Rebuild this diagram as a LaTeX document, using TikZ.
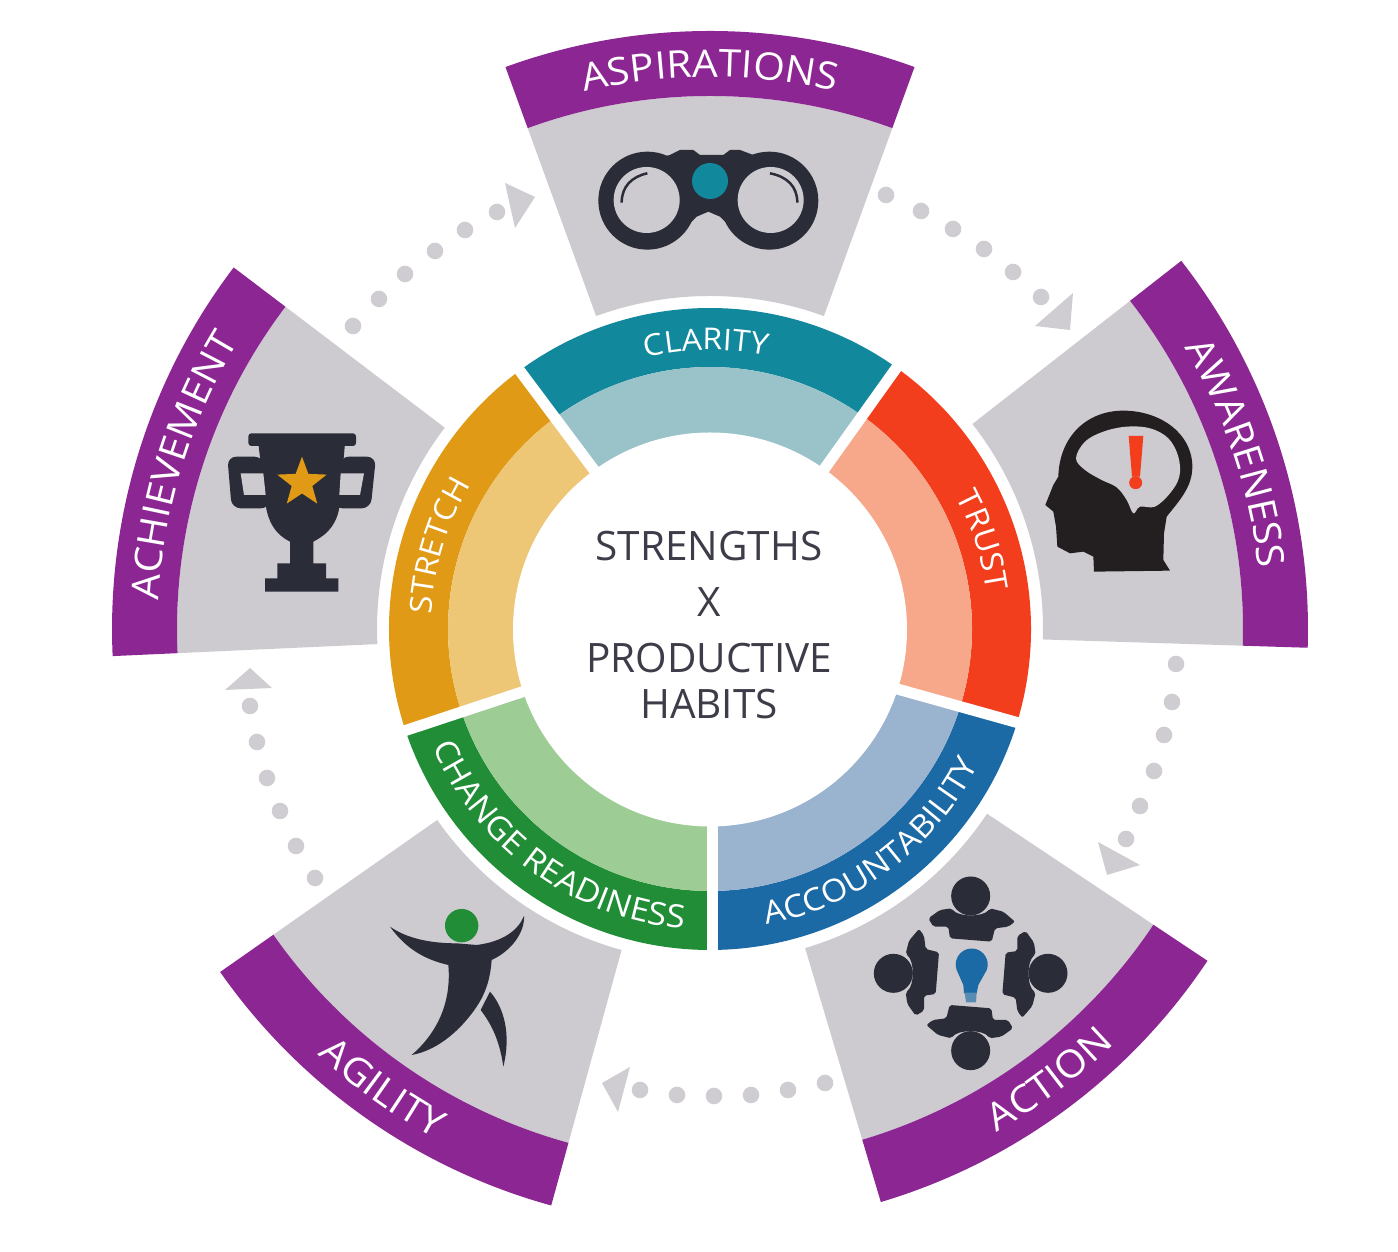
\documentclass[tikz,border=0pt]{standalone}
\usepackage{fontspec}
\setmainfont{Open Sans}
\newfontfamily\lblfont[FakeStretch=1.07]{Open Sans}
\usetikzlibrary{decorations.text,shapes.geometric}
\definecolor{purp}{HTML}{8C2693}
\definecolor{sectgrey}{HTML}{CDCBCF}
\definecolor{dotgrey}{HTML}{CFCDD1}
\definecolor{icondark}{HTML}{2A2C38}
\definecolor{headblack}{HTML}{231F20}
\definecolor{centertext}{HTML}{3C3D48}
\definecolor{tealD}{HTML}{11889C}\definecolor{tealL}{HTML}{9AC3C9}
\definecolor{redD}{HTML}{F23E1C}\definecolor{redL}{HTML}{F7A88A}
\definecolor{blueD}{HTML}{1B6AA5}\definecolor{blueL}{HTML}{9AB3CF}
\definecolor{greenD}{HTML}{218E37}\definecolor{greenL}{HTML}{9DCC94}
\definecolor{orangeD}{HTML}{E09A16}\definecolor{orangeL}{HTML}{EDC676}
\tikzset{
  pixel/.style={x=1pt,y=-1pt,yshift=1252pt},
  zoomed/.style={x=.33333pt,y=-.33333pt},
  dotfill/.style={fill=dotgrey},
  gapline/.style={draw=white,line width=11pt},
  centerlabel/.style={text=centertext,font=\fontsize{40.5}{40.5}\selectfont,inner sep=0pt,anchor=center}
}
% sector between angles #1,#2, radii #3,#4 (pt), colour #5
\newcommand\annsec[5]{\fill[#5] (#1:#3pt) arc[start angle=#1,end angle=#2,radius=#3pt] -- (#2:#4pt) arc[start angle=#2,end angle=#1,radius=#4pt] -- cycle;}
% curved text: start angle, end angle, radius, size, text
\newcommand\arclabel[5]{\path[decorate,decoration={text along path,text align=center,text={|\color{white}\lblfont\fontsize{#4}{#4}\selectfont|#5}}] (#1:#3pt) arc[start angle=#1,end angle=#2,radius=#3pt];}
\begin{document}
\begin{tikzpicture}
\useasboundingbox (0,0) rectangle (1398pt,1252pt);
% ---------- polar part
\begin{scope}[shift={(710pt,623pt)}]
  \annsec{70}{110}{333}{533}{sectgrey}\annsec{70}{110}{533}{598}{purp}
  \annsec{-1.8}{38}{333}{533}{sectgrey}\annsec{-1.8}{38}{533}{598}{purp}
  \annsec{-73.4}{-33.7}{333}{533}{sectgrey}\annsec{-73.4}{-33.7}{533}{598}{purp}
  \annsec{-145}{-105.4}{333}{533}{sectgrey}\annsec{-145}{-105.4}{533}{598}{purp}
  \annsec{142.8}{182.6}{333}{533}{sectgrey}\annsec{142.8}{182.6}{533}{598}{purp}
  % ring
  \annsec{54.5}{126.2}{262}{321}{tealD}\annsec{54.5}{126.2}{190}{262}{tealL}
  \annsec{-17}{54.5}{262}{321}{redD}\annsec{-17}{54.5}{190}{262}{redL}
  \annsec{-89.6}{-17}{262}{321}{blueD}\annsec{-89.6}{-17}{190}{262}{blueL}
  \annsec{198.3}{270.4}{262}{321}{greenD}\annsec{198.3}{270.4}{190}{262}{greenL}
  \annsec{126.2}{198.3}{262}{321}{orangeD}\annsec{126.2}{198.3}{190}{262}{orangeL}
\end{scope}
% ---------- pixel part
\begin{scope}[pixel]
  \coordinate (g1a) at (516.4,366.2); \coordinate (g1b) at (600,478);
  \coordinate (g2a) at (899.5,363.6); \coordinate (g2b) at (820,475);
  \coordinate (g3a) at (1021,723.6);  \coordinate (g3b) at (889,686.7);
  \coordinate (g4a) at (712,955);     \coordinate (g4b) at (712,820);
  \coordinate (g5a) at (401,732);     \coordinate (g5b) at (531,689);
  \draw[gapline] (g1a) -- (g1b);
  \draw[gapline] (g2a) -- (g2b);
  \draw[gapline] (g3a) -- (g3b);
  \draw[gapline] (g4a) -- (g4b);
  \draw[gapline] (g5a) -- (g5b);
  \fill[white] (710,629.5) circle[radius=197pt];
  \node[centerlabel] (c1) at (709,546) {STRENGTHS};
  \node[centerlabel] (c2) at (709,602) {X};
  \node[centerlabel] (c3) at (709,658) {PRODUCTIVE};
  \node[centerlabel] (c4) at (709,704) {HABITS};
  % dotted arrows
  \foreach \x/\y in {886/195,921/211,953/229,984/249,1013/272,1041/297,
                     1176/664,1172/702,1164/735,1154/771,1140/806,1126/839,
                     825/1083,788/1090,751/1095,714/1096,677/1095,640/1090,
                     315/878,296/846,280/811,267/778,257/742,250/706,
                     353/326,379/299,405/274,435/251,465/230,497/212}
    \fill[dotfill] (\x,\y) circle[radius=8.3pt];
  \fill[dotfill] (1073,293) -- (1035,326) -- (1070,330) -- cycle;
  \fill[dotfill] (1098,842) -- (1107,875) -- (1140,865) -- cycle;
  \fill[dotfill] (602,1083) -- (630,1067) -- (618,1112) -- cycle;
  \fill[dotfill] (225,690) -- (250,668) -- (272,688) -- cycle;
  \fill[dotfill] (505,183) -- (535,197) -- (515,228) -- cycle;
  % binoculars
  \begin{scope}[shift={(500,20)},zoomed]
    \fill[icondark] (450,420) -- (510,405) -- (540,390) -- (580,390) -- (600,405) -- (670,405) -- (690,390) -- (720,390) -- (760,405) -- (800,420) -- (695,625) -- (660,590) -- (625,575) -- (590,590) -- (555,625) -- cycle;
    \fill[icondark] (442,542) circle[radius=49pt];
    \fill[icondark] (808,542) circle[radius=49pt];
    \fill[sectgrey] (440,540) circle[radius=33pt];
    \fill[sectgrey] (812,540) circle[radius=33pt];
    \draw[icondark,line width=2.5pt] (365,548) .. controls (365,500) and (395,470) .. (442,460);
    \draw[icondark,line width=2.5pt] (892,548) .. controls (892,500) and (862,470) .. (810,460);
    \fill[tealD] (630,483) circle[radius=18pt];
  \end{scope}
  % head
  \begin{scope}[shift={(970,250)},zoomed]
    \fill[headblack] (372,965) -- (600,962) -- (580,930) -- (582,850) -- (590,800) .. controls (630,750) and (667,710) .. (667,650) .. controls (667,550) and (570,482) .. (460,482) .. controls (350,482) and (268,560) .. (265,680) -- (250,705) -- (226,765) -- (250,785) -- (258,830) -- (262,890) -- (300,910) -- (340,905) -- (370,920) -- cycle;
    \fill[sectgrey] plot[smooth cycle,tension=.6] coordinates {(318,625) (345,575) (400,545) (470,530) (540,535) (595,565) (625,620) (628,680) (600,730) (555,770) (510,770) (490,790) (470,750) (440,712) (395,690) (345,660)};
    \fill[redD] (476,558) -- (520,558) -- (510,680) -- (486,680) -- cycle;
    \fill[redD] (497,698) circle[radius=6.5pt];
  \end{scope}
  % team
  \begin{scope}[shift={(800,810)},zoomed]
    \foreach \a in {0,90,180,270}{
      \begin{scope}[rotate around={\a:(512,490)}]
        \fill[icondark,rounded corners=2pt] (385,325) -- (420,300) -- (455,295) .. controls (475,322) and (550,322) .. (570,295) -- (610,305) -- (645,335) -- (625,350) -- (585,355) -- (575,395) -- (450,385) -- (445,350) -- (400,350) -- cycle;
        \fill[icondark] (512,258) circle[radius=19.5pt];
      \end{scope}
    }
    \fill[blueD] (470,480) arc[start angle=200,end angle=-20,radius=16pt] -- (535,525) -- (530,550) -- (492,550) -- (490,525) -- cycle;
    \fill[blueD!65!sectgrey] (494,548) -- (530,548) -- (528,577) -- (498,577) -- cycle;
  \end{scope}
  % runner
  \begin{scope}[shift={(210,810)},zoomed]
    \fill[icondark] (540,350) .. controls (590,385) and (660,400) .. (740,400) -- (800,405) .. controls (880,395) and (925,360) .. (942,318) .. controls (945,370) and (900,425) .. (845,450) .. controls (840,520) and (820,560) .. (800,590) .. controls (760,650) and (690,720) .. (605,735) .. controls (680,670) and (725,580) .. (715,465) .. controls (650,450) and (590,420) .. cycle;
    \fill[icondark] (840,545) .. controls (880,590) and (905,670) .. (880,770) .. controls (870,700) and (850,650) .. (812,600) -- cycle;
    \fill[greenD] (755,347) circle[radius=16.7pt];
  \end{scope}
  % trophy
  \begin{scope}[shift={(110,260)},zoomed]
    \fill[icondark,rounded corners=3pt] (415,520) -- (738,520) -- (738,558) -- (415,558) -- cycle;
    \fill[icondark] (445,550) -- (705,550) -- (690,720) .. controls (688,790) and (650,825) .. (610,845) -- (610,910) -- (648,910) -- (648,955) -- (685,955) -- (685,995) -- (465,995) -- (465,955) -- (502,955) -- (502,910) -- (540,910) -- (540,845) .. controls (500,825) and (472,790) .. (465,720) -- cycle;
    \fill[icondark,rounded corners=9pt] (460,590) -- (352,590) -- (365,745) -- (480,745) -- cycle;
    \fill[icondark,rounded corners=9pt] (690,590) -- (798,590) -- (782,745) -- (670,745) -- cycle;
    \fill[sectgrey] (392,640) -- (460,640) -- (467,705) -- (402,705) -- cycle;
    \fill[sectgrey] (692,640) -- (762,640) -- (750,705) -- (688,705) -- cycle;
    \node[star,star points=5,star point ratio=2.4,fill=orangeD,inner sep=0pt,minimum size=52pt] (trophystar) at (576,668) {};
  \end{scope}
\end{scope}
% ---------- curved labels
\begin{scope}[shift={(710pt,623pt)}]
  \arclabel{115}{65}{552}{38}{ASPIRATIONS}
  \arclabel{43.5}{-6.5}{552}{38}{AWARENESS}
  \arclabel{192.8}{132.8}{552}{38}{ACHIEVEMENT}
  \arclabel{-78}{-28}{579}{38}{ACTION}
  \arclabel{-150.5}{-100.5}{579}{38}{AGILITY}
  \arclabel{120.8}{60.8}{279}{30}{CLARITY}
  \arclabel{48}{-12}{279}{31}{TRUST}
  \arclabel{193}{133}{279}{30.5}{STRETCH}
  \arclabel{-93}{-13}{301}{31.5}{ACCOUNTABILITY}
  \arclabel{-170.5}{-81.5}{301}{32}{CHANGE READINESS}
\end{scope}
\end{tikzpicture}
\end{document}
